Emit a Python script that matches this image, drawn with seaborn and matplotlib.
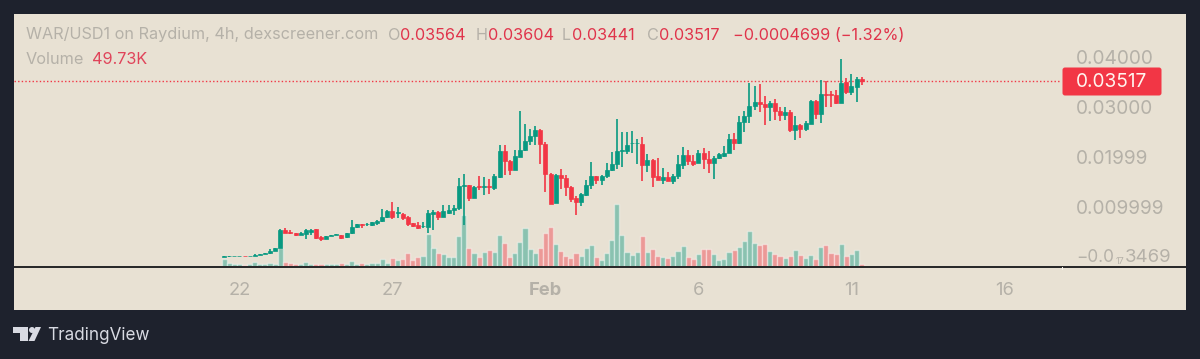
import numpy as np
import pandas as pd
import seaborn as sns
import matplotlib.pyplot as plt
from matplotlib.patches import FancyBboxPatch, Polygon, Circle, Rectangle
from matplotlib.transforms import IdentityTransform

# prices in units of 0.0001, one row per 4h bar
open_e4 = [1.0, 1.2, 1.8, 2.0, 2.2, 2.0, 1.5, 5.0, 6.0, 7.3, 12.0, 18.6,
           54.0, 50.0, 47.3, 44.6, 46.0, 50.0, 55.3, 40.6, 36.6, 43.0, 45.0, 44.0, 39.3, 48.6, 59.3, 66.0, 66.0, 63.3,
           67.3, 72.0, 79.3, 92.0, 88.0, 85.3, 80.6, 67.3, 64.0, 61.5,
           60.5, 87.0, 90.5, 80.5, 88.5, 95.0, 97.5, 143.0, 144.0, 119.0, 142.0, 139.6, 142.0, 138.6, 160.6, 212.6,
           192.0, 174.0, 200.6, 214.0, 232.0, 242.0, 255.0, 227.0, 167.0, 109.0, 164.0, 158.6, 140.6, 119.0, 110.6,
           125.0, 144.0, 162.0, 155.0, 162.0, 174.0, 187.0, 212.0, 212.0, 228.0, 228.0, 227.0, 184.0,
           195.0, 162.0, 154.0, 160.6, 152.5, 162.0, 184.0, 204.0, 192.0, 188.5, 208.5, 197.0, 188.5, 198.5, 202.5,
           209.0, 236.0, 229.0, 270.6, 282.0, 302.0, 310.6, 306.0, 300.6, 309.0, 292.6, 284.0, 290.6, 254.0, 264.0,
           257.0, 267.0, 312.0, 287.0, 327.0, 327.0, 324.0, 309.0, 349.0, 330.6, 340.6, 356.4]
high_e4 = [1.5, 1.7, 2.3, 2.5, 2.7, 2.5, 5.5, 6.5, 7.5, 17.0, 18.6, 57.0,
           57.3, 55.0, 49.0, 50.6, 56.0, 56.0, 55.3, 42.0, 42.6, 45.0, 47.0, 45.0, 48.0, 74.0, 66.0, 67.0, 67.5, 70.0,
           75.0, 97.0, 94.0, 110.6, 100.6, 87.3, 82.0, 68.6, 70.0, 70.5,
           95.0, 95.0, 92.5, 105.0, 104.0, 104.0, 158.6, 167.0, 145.0, 142.0, 162.0, 159.3, 156.0, 166.0, 224.0, 224.0,
           194.0, 215.0, 292.0, 267.0, 257.0, 262.6, 257.0, 230.6, 168.6, 166.0, 177.0, 164.0, 142.0, 122.0, 129.0,
           155.0, 190.6, 163.0, 164.6, 189.0, 210.0, 276.0, 250.6, 250.6, 252.6, 237.0, 240.6, 206.0,
           197.0, 198.5, 178.5, 170.5, 166.0, 204.0, 220.6, 214.0, 204.0, 214.0, 218.6, 212.0, 202.0, 208.6, 222.6,
           245.3, 249.0, 282.0, 292.0, 349.0, 342.0, 345.0, 322.6, 312.0, 316.0, 299.0, 299.0, 295.0, 282.0, 267.0,
           272.0, 314.0, 314.0, 354.0, 352.6, 332.6, 334.0, 396.0, 358.6, 365.0, 360.6, 360.4]
low_e4 = [0.8, 1.0, 1.5, 1.7, 1.5, 1.7, 1.2, 4.5, 5.5, 7.0, 11.5, 18.0,
          47.3, 47.0, 42.0, 44.0, 37.0, 44.0, 35.3, 32.6, 36.0, 42.0, 44.0, 36.6, 38.0, 47.0, 59.0, 58.6, 62.0, 62.0,
          65.0, 70.6, 79.0, 76.0, 78.6, 74.0, 62.6, 59.3, 57.0, 59.0,
          49.0, 54.0, 75.0, 80.5, 87.0, 84.0, 95.0, 64.0, 112.6, 119.0, 135.0, 125.0, 126.0, 134.0, 158.6, 165.0,
          164.0, 174.0, 200.6, 212.6, 224.0, 225.0, 186.0, 130.6, 106.0, 109.0, 137.0, 122.0, 110.6, 84.0, 102.0,
          122.0, 137.0, 147.0, 144.0, 159.0, 172.0, 176.0, 180.6, 207.0, 208.6, 187.0, 152.0, 170.5,
          140.5, 154.0, 147.0, 152.0, 147.0, 157.0, 176.0, 184.0, 182.5, 188.5, 177.0, 169.0, 156.0, 196.5, 200.5,
          208.6, 214.0, 227.0, 250.6, 268.6, 294.0, 290.6, 264.0, 272.6, 274.0, 272.6, 275.0, 250.6, 235.0, 239.0,
          252.6, 266.0, 276.0, 268.6, 299.0, 300.6, 307.0, 309.0, 327.0, 325.0, 310.6, 344.1]
close_e4 = [1.2, 1.5, 2.0, 2.2, 1.8, 2.3, 5.0, 6.0, 7.3, 12.6, 18.0, 54.0,
            48.6, 49.0, 43.3, 48.6, 54.0, 54.0, 38.0, 35.3, 42.0, 44.0, 46.0, 38.6, 47.3, 59.3, 65.3, 65.0, 66.5, 69.3,
            72.6, 79.3, 92.6, 79.3, 89.5, 77.3, 65.3, 62.0, 58.6, 62.5,
            87.5, 90.5, 80.5, 92.0, 95.0, 99.0, 142.0, 145.0, 118.5, 140.6, 140.0, 141.0, 140.0, 162.0, 212.6, 192.0,
            174.0, 202.0, 215.0, 232.0, 242.0, 254.0, 226.0, 167.0, 107.0, 165.0, 158.6, 140.6, 117.0, 110.6, 126.0,
            145.0, 162.0, 155.0, 163.0, 174.0, 187.0, 212.0, 214.0, 225.0, 229.0, 229.0, 184.0, 195.0,
            160.6, 154.0, 160.6, 152.5, 163.0, 185.0, 204.0, 192.0, 187.0, 209.0, 197.0, 188.5, 199.0, 206.0, 209.0,
            236.0, 229.0, 270.6, 282.6, 302.0, 310.6, 307.0, 300.6, 309.0, 292.6, 284.0, 290.6, 254.0, 264.0, 257.0,
            269.0, 312.0, 287.0, 327.0, 325.0, 325.0, 309.0, 349.0, 330.6, 342.0, 355.0, 351.7]
volume_k = [114, 54, 39, 39, 36, 39, 80, 45, 45, 54, 39, 279,
            80, 54, 45, 45, 69, 45, 45, 45, 39, 39, 39, 54, 39, 90, 45, 54, 45, 60, 65, 114, 65, 140, 105, 125, 215,
            105, 144, 160, 489, 279, 210, 189, 150, 150, 465, 774, 279, 210, 150, 219, 260, 219, 474, 365, 150, 210,
            375, 585, 264, 210, 290, 510, 600, 350, 240, 170, 129, 215, 159, 279, 335, 150, 110, 215, 399, 939, 485,
            230, 185, 230, 459, 219, 264, 159, 144, 129, 159, 245, 315, 150, 120, 200, 270, 275, 200, 110, 114, 225,
            249, 300, 384, 545, 354, 324, 345, 234, 200, 170, 129, 159, 260, 174, 140, 180, 114, 305, 324, 215, 200,
            339, 165, 200, 249, 49.73]

date_ticks = [3, 33, 63, 93, 123, 153]
date_labels = ["22", "27", "Feb", "6", "11", "16"]
price_ticks = [0.04, 0.03, 0.02, 0.01]
price_labels = ["0.04000", "0.03000", "0.01999", "0.009999"]
last_price = 0.03517

PANEL = "#e8e1d3"
DARK = "#1e222d"
GREEN = "#089981"
RED = "#f23645"
GREY = "#b5b1a8"

df = pd.DataFrame({"bar": np.arange(len(close_e4)), "open": open_e4, "high": high_e4,
                   "low": low_e4, "close": close_e4, "volume": volume_k})
for col in ["open", "high", "low", "close"]:
    df[col] = df[col] * 1e-4
df["side"] = np.where(df["close"] < df["open"], "down", "up")

sns.set_theme(style="white")
plt.rcParams["font.family"] = ["Inter", "DejaVu Sans"]

W, H = 1200, 359
fig = plt.figure(figsize=(W / 100, H / 100), dpi=100, facecolor=DARK)


def box(x0, y0, x1, y1):
    return [x0 / W, 1 - y1 / H, (x1 - x0) / W, (y1 - y0) / H]


def ftext(x, y, s, color=GREY, size=11.7, **kw):
    fig.text(x / W, 1 - y / H, s, color=color, fontsize=size, va="center", **kw)


# beige panel under everything
fig.add_artist(Rectangle((14 / W, 1 - 310 / H), 1172 / W, 296 / H, transform=fig.transFigure,
                         facecolor=PANEL, edgecolor="none", zorder=-5))

xlim = (-41.2, 188.6)
ax_vol = fig.add_axes(box(14, 14, 1186, 267), facecolor="none")
sns.barplot(data=df, x="bar", y="volume", hue="side", hue_order=["up", "down"],
            palette={"up": GREEN, "down": RED}, native_scale=True, dodge=False, width=1.0,
            saturation=1, alpha=0.42, errorbar=None, legend=False, ax=ax_vol)
ax_vol.set_xlim(xlim)
ax_vol.set_ylim(0, 253 * 15)
ax_vol.axis("off")

ax = fig.add_axes(box(14, 14, 1186, 267), facecolor="none")
colors = df["side"].map({"up": GREEN, "down": RED})
ax.vlines(df["bar"], df["low"], df["high"], colors=colors, linewidth=1.2, zorder=3)
ax.bar(df["bar"], (df["close"] - df["open"]).abs(), bottom=df[["open", "close"]].min(axis=1), width=0.78,
       color=colors, edgecolor=colors, linewidth=0.5, zorder=4)
ax.set_xlim(xlim)
ax.set_ylim(-0.002, 0.0486)

ax.hlines(last_price, xlim[0], 164, colors=RED, linewidth=1.0, linestyles=(0, (1, 1.6)), zorder=2)

ax.set_xticks(date_ticks, date_labels)
ax.yaxis.tick_right()
ax.set_yticks(price_ticks, price_labels)
ax.tick_params(axis="y", length=0, pad=-79.2, labelsize=13.7, labelcolor=GREY)
ax.tick_params(axis="x", length=0, pad=11, labelsize=13.2, labelcolor=GREY)
for lab in ax.get_xticklabels():
    if lab.get_text() == "Feb":
        lab.set_fontweight("bold")
sns.despine(ax=ax, left=True, bottom=True, top=True, right=True)

# zero label has a small subscript, so it is set in three pieces
ftext(1076, 257, "\u22120.0", size=12.4)
ftext(1115.5, 262, "17", size=6.5)
ftext(1125, 257, "3469", size=13.4)

# axis line across the whole panel
fig.add_artist(Rectangle((14, H - 267.8), 1172, 1.8, transform=IdentityTransform(),
                         facecolor="#2a2a2a", edgecolor="none", zorder=6))

# last price badge, pixel coordinates
fig.add_artist(FancyBboxPatch((1064, H - 94), 96, 25, boxstyle="round,pad=1.5,rounding_size=2.5",
                              transform=IdentityTransform(), facecolor=RED, edgecolor="none", zorder=6))
ftext(1076, 82, "0.03517", color="#fff4ee", size=13.7, zorder=7)
fig.add_artist(Rectangle((1061.5, H - 270), 1.2, 3.5, transform=IdentityTransform(),
                         facecolor="#f5f2ea", edgecolor="none", zorder=7))

# legend rows
ftext(26, 35, "WAR/USD1 on Raydium, 4h, dexscreener.com")
for x, s in [(388, "O"), (476, "H"), (562, "L"), (647, "C")]:
    ftext(x, 35, s)
for x, s in [(400, "0.03564"), (488, "0.03604"), (572, "0.03441"), (659, "0.03517"),
             (733, "\u22120.0004699 (\u22121.32%)")]:
    ftext(x, 35, s, color="#e0344b")
ftext(26, 60, "Volume")
ftext(92, 60, "49.73K", color="#e0445a")

# TradingView mark
logo = "#d8dae2"
fig.add_artist(Polygon([(13, H - 327), (28, H - 327), (28, H - 341), (20, H - 341), (20, H - 333), (13, H - 333)],
                       transform=IdentityTransform(), facecolor=logo, edgecolor="none"))
fig.add_artist(Circle((32, H - 330), 3, transform=IdentityTransform(), facecolor=logo, edgecolor="none"))
fig.add_artist(Polygon([(35.5, H - 327), (41, H - 327), (34.5, H - 341), (28.5, H - 341)],
                       transform=IdentityTransform(), facecolor=logo, edgecolor="none"))
ftext(47, 336, "TradingView", color=logo, size=12.3)

fig.savefig("out.png", dpi=100, facecolor=DARK)
